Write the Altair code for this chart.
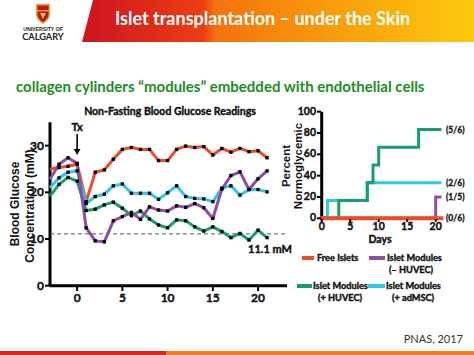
import altair as alt
import pandas as pd

# ---------------- data ----------------
days = list(range(-3, 22))
free_islets = [25.0, 25.3, 25.6, 26.0, 18.0, 24.3, 24.8, 27.1, 29.2, 29.6, 29.2, 29.2, 26.8,
               26.8, 29.2, 29.9, 29.6, 29.8, 28.0, 29.4, 28.6, 29.4, 28.7, 28.9, 27.4]
modules_minus_huvec = [22.8, 26.0, 27.4, 26.2, 12.4, 9.6, 9.4, 13.9, 14.8, 15.7, 14.2, 16.9, 16.2,
                       16.0, 17.1, 16.8, 17.6, 16.7, 14.4, 20.7, 23.6, 24.4, 20.6, 22.9, 24.6]
modules_plus_huvec = [19.2, 21.7, 23.2, 22.4, 16.1, 16.4, 17.3, 17.9, 16.6, 15.0, 16.0, 14.3, 13.0,
                      12.4, 14.1, 13.9, 12.6, 11.7, 12.6, 11.6, 10.3, 11.2, 9.8, 11.9, 10.3]
modules_plus_admsc = [21.0, 23.1, 24.3, 24.6, 17.6, 19.1, 19.6, 21.4, 21.8, 19.8, 19.8, 19.8, 18.5,
                      19.9, 21.4, 19.1, 18.7, 18.6, 18.0, 20.9, 21.4, 19.4, 20.6, 20.6, 20.1]
first_marker_day = -2
threshold = 11.1
glucose_ticks = [0, 10, 20, 30]
day_ticks = [0, 5, 10, 15, 20]

# percent normoglycemic (step changes: day, percent)
free_step_days = [0, 21]
free_step_pct = [0, 0]
minus_step_days = [0, 20, 21]
minus_step_pct = [0, 20, 20]
plus_step_days = [0, 3, 8, 9, 10, 17, 21]
plus_step_pct = [0, 16.7, 33.3, 50, 66.7, 83.3, 83.3]
admsc_step_days = [0, 1, 8, 21]
admsc_step_pct = [0, 16.7, 33.3, 33.3]
end_labels = ["(5/6)", "(2/6)", "(1/5)", "(0/6)"]
end_pct = [83.3, 33.3, 20, 0]
pct_ticks = [0, 20, 40, 60, 80, 100]

RED, PURPLE, GREEN, CYAN = "#ef4a2b", "#8e4ea3", "#14a06c", "#2cc6ee"

SANS = "Liberation Sans, Arial, sans-serif"
LATO = "Lato, Open Sans, sans-serif"
COND = LATO
INK = "#111"
THICK = dict(stroke=INK, strokeWidth=0.4)

XL = alt.Scale(domain=[-3, 23.2], range=[50, 287], nice=False, zero=False)
YL = alt.Scale(domain=[0, 35], range=[285.7, 122.3], nice=False, zero=False)
XR = alt.Scale(domain=[0, 21], range=[321.7, 441.4], nice=False, zero=False)
YR = alt.Scale(domain=[0, 100], range=[218.3, 111.7], nice=False, zero=False)


def one():
    return alt.Data(values=[{"k": 1}])


def shape(path, fill):
    return alt.Chart(one()).mark_point(shape=path, size=4, filled=True, opacity=1,
                                       strokeWidth=0, fill=fill).encode(
        x=alt.value(0), y=alt.value(0))


def txt(s, x, y, size, color=INK, font=COND, weight="bold", align="center", angle=None, heavy=True):
    kw = dict(text=s, fontSize=size, color=color, font=font, fontWeight=weight,
              align=align, baseline="middle")
    if heavy:
        kw.update(stroke=color, strokeWidth=0.4)
    if angle is not None:
        kw["angle"] = angle
    return alt.Chart(one()).mark_text(**kw).encode(x=alt.value(x), y=alt.value(y))


def box(x, x2, y, y2, color):
    return alt.Chart(one()).mark_rect(color=color, opacity=1).encode(
        x=alt.value(x), x2=alt.value(x2), y=alt.value(y), y2=alt.value(y2))


def swatch(x, x2, y, color):
    return alt.Chart(one()).mark_rule(color=color, strokeWidth=4).encode(
        x=alt.value(x), x2=alt.value(x2), y=alt.value(y))


layers = []

# ---------- slide decoration ----------
banner_grad = alt.LinearGradient(
    gradient="linear", x1=0, x2=1, y1=0, y2=0,
    stops=[alt.GradientStop(color="#cc1420", offset=0),
           alt.GradientStop(color="#ee3e12", offset=0.31),
           alt.GradientStop(color="#f4720d", offset=0.34),
           alt.GradientStop(color="#f89a0c", offset=0.62),
           alt.GradientStop(color="#fdc90d", offset=1)])
layers.append(shape("M82,42 L93,0 L474,0 L474,42 Z", banner_grad))
layers.append(txt("Islet transplantation – under the Skin", 115, 20, 18, color="white",
                  font=LATO, align="left", heavy=False))

# logo
layers.append(shape("M36,4 L50,4 L50,14 C50,19 46,22 43,24 C40,22 36,19 36,14 Z", "#e0a526"))
layers.append(shape("M37.5,5.5 L48.5,5.5 L48.5,10 L37.5,10 Z", "#c8102e"))
layers.append(shape("M37.5,11.5 L48.5,11.5 L48.5,14 C48.5,18 45.5,20.5 43,22 C40.5,20.5 37.5,18 37.5,14 Z", "#b5122b"))
layers.append(shape("M40,13 L46,13 L43,19 Z", "#f0c040"))
layers.append(txt("UNIVERSITY OF", 43, 28.5, 5.2, color="#222", font=SANS, heavy=False))
layers.append(txt("CALGARY", 43, 36.5, 9.2, color="#222", font=LATO, heavy=False))

layers.append(txt("collagen cylinders “modules” embedded with endothelial cells", 16, 87, 15,
                  color="#1e8c1e", font=LATO, align="left", heavy=False))

layers.append(box(0, 166, 351, 355, "#e5231b"))
layers.append(box(166, 474, 351, 355, "#f47b20"))
layers.append(txt("PNAS, 2017", 463, 340, 11, color="#333", font=LATO, weight="normal",
                  align="right", heavy=False))

# ---------- left chart: blood glucose ----------
left = []
series = [("Free Islets", free_islets, RED),
          ("Islet Modules (+ adMSC)", modules_plus_admsc, CYAN),
          ("Islet Modules (+ HUVEC)", modules_plus_huvec, GREEN),
          ("Islet Modules (– HUVEC)", modules_minus_huvec, PURPLE)]

axis_df = pd.DataFrame({"x0": [-3, -3], "x1": [-3, 23.2], "y0": [0, 0], "y1": [35, 0]})
left.append(alt.Chart(axis_df).mark_rule(color="black", strokeWidth=3).encode(
    x=alt.X("x0:Q", scale=XL, axis=None), x2="x1:Q",
    y=alt.Y("y0:Q", scale=YL, axis=None), y2="y1:Q"))

thr_df = pd.DataFrame({"x0": [-3], "x1": [23.2], "y": [threshold]})
left.append(alt.Chart(thr_df).mark_rule(color="#555", strokeDash=[4, 3], strokeWidth=1).encode(
    x=alt.X("x0:Q", scale=XL, axis=None), x2="x1:Q", y=alt.Y("y:Q", scale=YL, axis=None)))

all_rows = []
for name, vals, col in series:
    df = pd.DataFrame({"day": days, "glucose": vals})
    left.append(alt.Chart(df).mark_line(color=col, strokeWidth=3, strokeJoin="round").encode(
        x=alt.X("day:Q", scale=XL, axis=None), y=alt.Y("glucose:Q", scale=YL, axis=None)))
    for d, v in zip(days, vals):
        if d >= first_marker_day:
            all_rows.append({"day": d, "glucose": v, "series": name})
pts = pd.DataFrame(all_rows)
left.append(alt.Chart(pts).mark_square(size=11, color="black", opacity=1).encode(
    x=alt.X("day:Q", scale=XL, axis=None), y=alt.Y("glucose:Q", scale=YL, axis=None)))

gt = pd.DataFrame({"v": glucose_ticks, "label": [str(t) for t in glucose_ticks]})
left.append(alt.Chart(gt).mark_rule(color="black", strokeWidth=2).encode(
    x=alt.value(45), x2=alt.value(50), y=alt.Y("v:Q", scale=YL, axis=None)))
left.append(alt.Chart(gt).mark_text(font=COND, fontWeight="bold", fontSize=12, align="right",
                                    baseline="middle", color=INK, **THICK).encode(
    x=alt.value(44), y=alt.Y("v:Q", scale=YL, axis=None), text="label:N"))

dt = pd.DataFrame({"v": day_ticks, "label": [str(t) for t in day_ticks]})
left.append(alt.Chart(dt).mark_rule(color="black", strokeWidth=2).encode(
    y=alt.value(286), y2=alt.value(291), x=alt.X("v:Q", scale=XL, axis=None)))
left.append(alt.Chart(dt).mark_text(font=COND, fontWeight="bold", fontSize=12, align="center",
                                    baseline="middle", color=INK, **THICK).encode(
    y=alt.value(298), x=alt.X("v:Q", scale=XL, axis=None), text="label:N"))

tx_df = pd.DataFrame({"day": [0]})
left.append(alt.Chart(tx_df).mark_text(text="Tx", font=COND, fontWeight="bold", fontSize=11,
                                       color=INK, baseline="middle", **THICK).encode(
    x=alt.X("day:Q", scale=XL, axis=None), y=alt.value(128)))
left.append(alt.Chart(tx_df).mark_rule(color="black", strokeWidth=1.6).encode(
    x=alt.X("day:Q", scale=XL, axis=None), y=alt.value(134), y2=alt.value(151)))
left.append(alt.Chart(tx_df).mark_point(shape="triangle-down", filled=True, size=45, color="black",
                                        opacity=1).encode(
    x=alt.X("day:Q", scale=XL, axis=None), y=alt.value(152)))

left_chart = alt.layer(*left)
layers.append(left_chart)

layers.append(txt("Non-Fasting Blood Glucose Readings", 170, 112, 10.5))
layers.append(txt("Blood Glucose", 15, 204, 12, font=SANS, angle=270, heavy=False))
layers.append(txt("Concentration (mM)", 30, 206, 12, font=SANS, angle=270, heavy=False))
layers.append(txt("11.1 mM", 270, 250, 11))

# ---------- right chart: percent normoglycemic ----------
right = []
steps = [(admsc_step_days, admsc_step_pct, CYAN),
         (minus_step_days, minus_step_pct, PURPLE),
         (plus_step_days, plus_step_pct, GREEN)]
ax_df = pd.DataFrame({"x0": [0], "y0": [0], "y1": [100]})
right.append(alt.Chart(ax_df).mark_rule(color="black", strokeWidth=3).encode(
    x=alt.X("x0:Q", scale=XR, axis=None), y=alt.Y("y0:Q", scale=YR, axis=None), y2="y1:Q"))
for d, p, col in steps:
    df = pd.DataFrame({"day": d, "pct": p})
    right.append(alt.Chart(df).mark_line(color=col, strokeWidth=3, interpolate="step-after").encode(
        x=alt.X("day:Q", scale=XR, axis=None), y=alt.Y("pct:Q", scale=YR, axis=None)))
df = pd.DataFrame({"day": free_step_days, "pct": free_step_pct})
right.append(alt.Chart(df).mark_line(color=RED, strokeWidth=4, interpolate="step-after",
                                     strokeCap="square").encode(
    x=alt.X("day:Q", scale=XR, axis=None), y=alt.Y("pct:Q", scale=YR, axis=None)))

pt = pd.DataFrame({"v": pct_ticks, "label": [str(t) for t in pct_ticks]})
right.append(alt.Chart(pt).mark_rule(color="black", strokeWidth=2).encode(
    x=alt.value(317), x2=alt.value(321), y=alt.Y("v:Q", scale=YR, axis=None)))
right.append(alt.Chart(pt).mark_text(font=COND, fontWeight="bold", fontSize=10.5, align="right",
                                     baseline="middle", color=INK, **THICK).encode(
    x=alt.value(316), y=alt.Y("v:Q", scale=YR, axis=None), text="label:N"))
right.append(alt.Chart(dt).mark_rule(color="black", strokeWidth=2).encode(
    y=alt.value(219), y2=alt.value(222), x=alt.X("v:Q", scale=XR, axis=None)))
right.append(alt.Chart(dt).mark_text(font=COND, fontWeight="bold", fontSize=10.5, align="center",
                                     baseline="middle", color=INK, **THICK).encode(
    y=alt.value(227), x=alt.X("v:Q", scale=XR, axis=None), text="label:N"))

el = pd.DataFrame({"pct": end_pct, "label": end_labels})
right.append(alt.Chart(el).mark_text(font=COND, fontWeight="bold", fontSize=8.5, align="left",
                                     baseline="middle", color=INK, stroke=INK,
                                     strokeWidth=0.3).encode(
    x=alt.value(446), y=alt.Y("pct:Q", scale=YR, axis=None), text="label:N"))

right_chart = alt.layer(*right)
layers.append(right_chart)

layers.append(txt("Days", 380, 239.5, 10.5))
layers.append(txt("Percent", 286.5, 166, 11.5, font=SANS, angle=270, heavy=False))
layers.append(txt("Normoglycemic", 299, 166, 11.5, font=SANS, angle=270, heavy=False))

# ---------- legend ----------
LEG = 9.2
layers.append(swatch(302, 314, 258, RED))
layers.append(txt("Free Islets", 317, 258, LEG, align="left"))
layers.append(swatch(369, 385, 258, PURPLE))
layers.append(txt("Islet Modules", 387, 258, LEG, align="left"))
layers.append(txt("(– HUVEC)", 411, 270, LEG))
layers.append(swatch(297, 312, 286, GREEN))
layers.append(txt("Islet Modules", 313, 286, LEG, align="left"))
layers.append(txt("(+ HUVEC)", 340, 298, LEG))
layers.append(swatch(368, 385, 286, CYAN))
layers.append(txt("Islet Modules", 386, 286, LEG, align="left"))
layers.append(txt("(+ adMSC)", 413, 298, LEG))

chart = alt.layer(*layers).resolve_scale(x="independent", y="independent").properties(
    width=474, height=355, autosize=alt.AutoSizeParams(type="none"), padding=0,
    background="white").configure_view(stroke=None)

chart.save("out.html", embed_options={"renderer": "svg", "actions": False})
